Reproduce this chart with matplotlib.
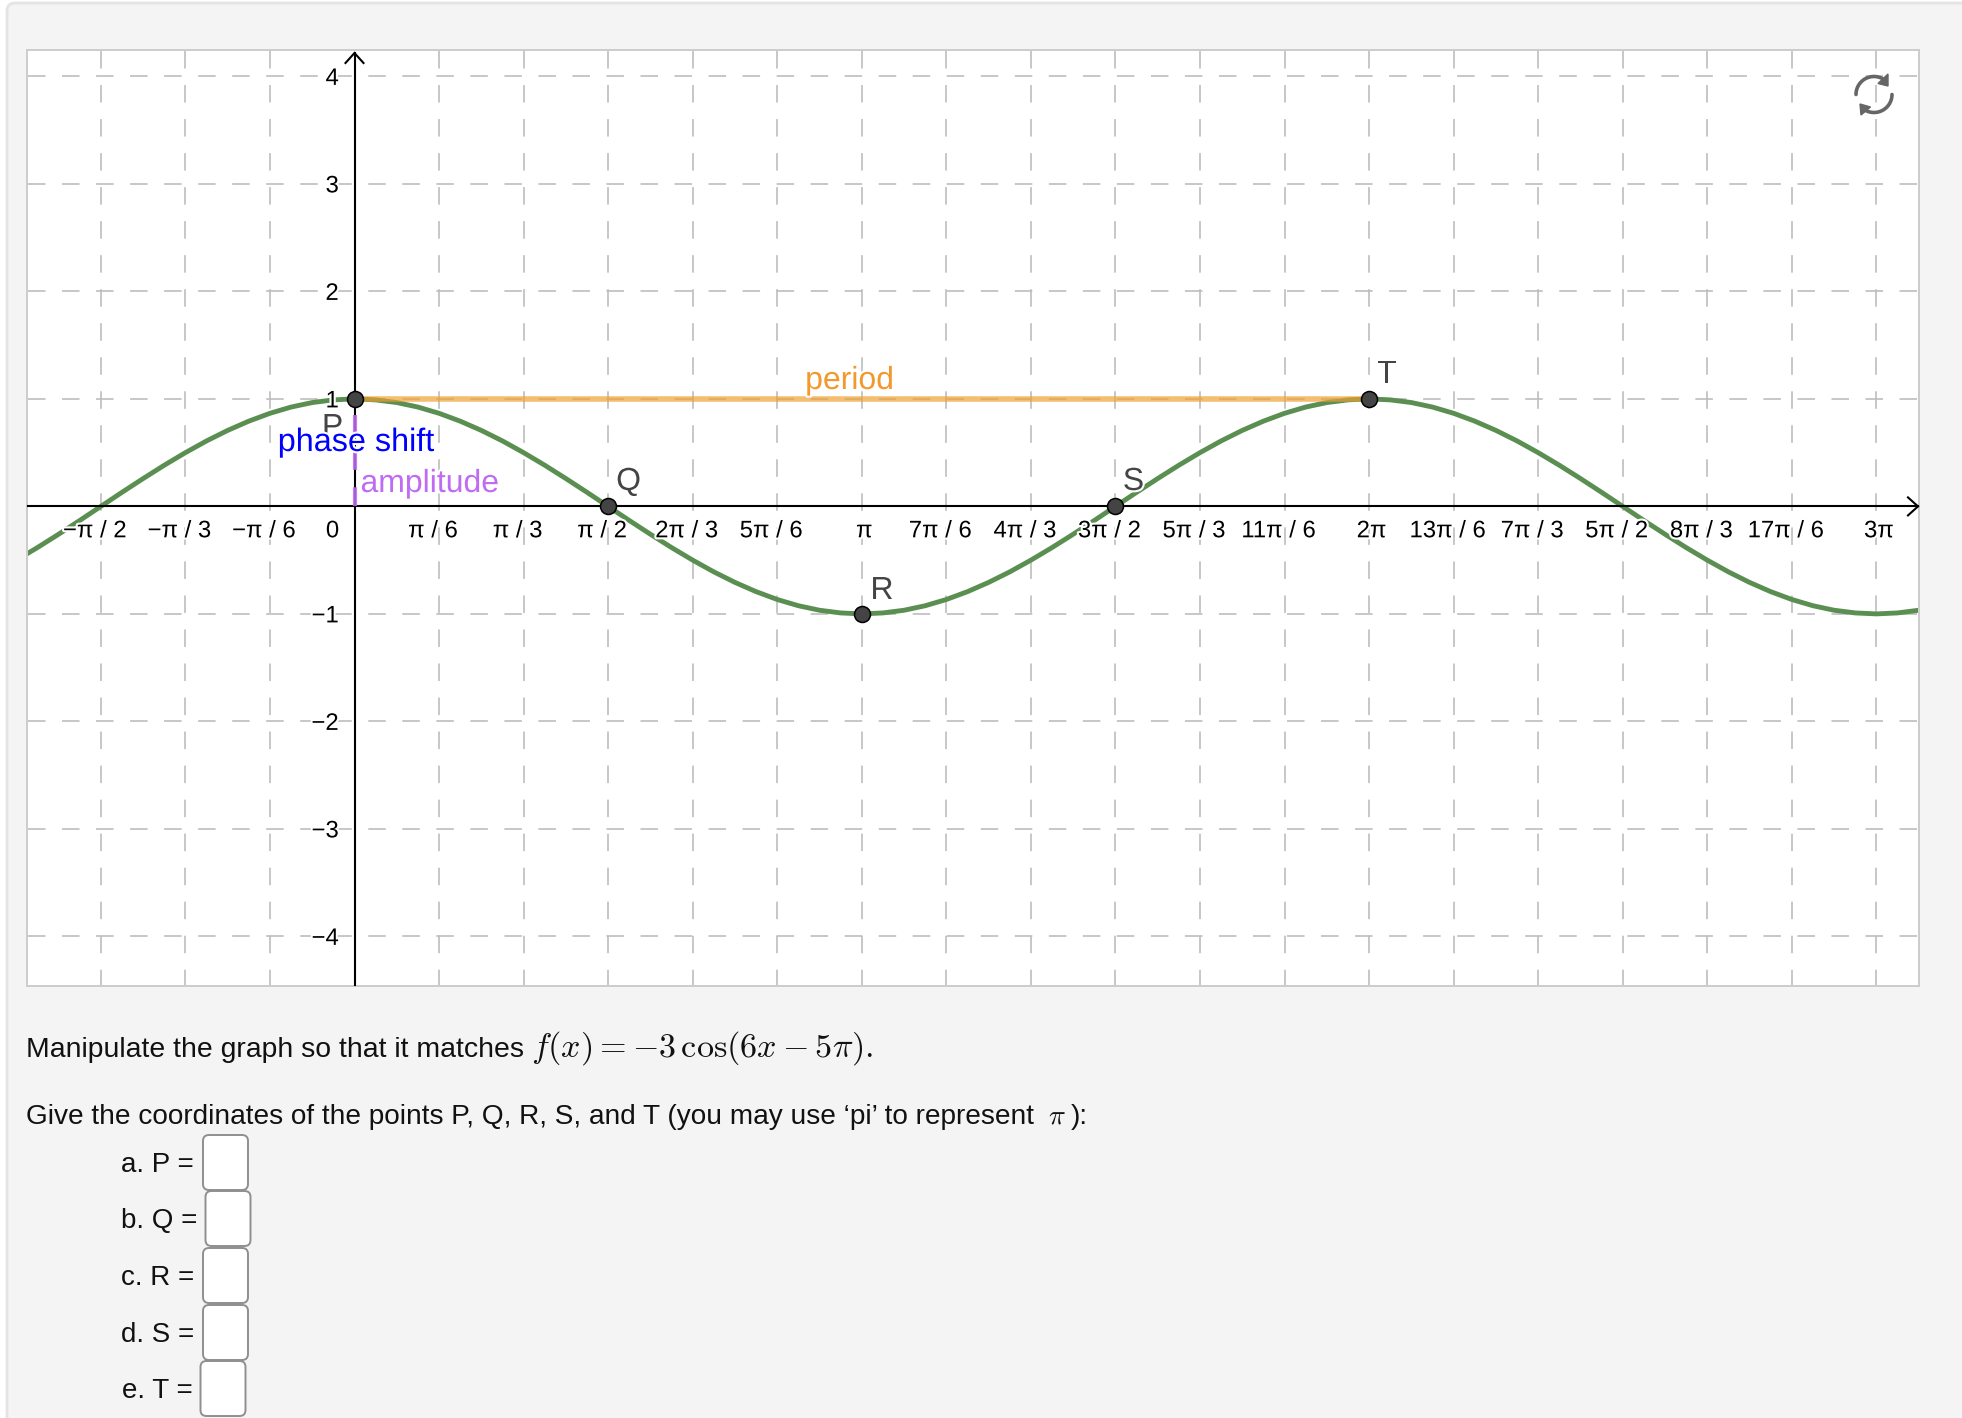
import matplotlib
matplotlib.use('Agg')
import matplotlib.pyplot as plt
import matplotlib.patheffects as pe
from matplotlib.patches import FancyBboxPatch, Polygon, Rectangle
from matplotlib.transforms import ScaledTranslation
import numpy as np

plt.rcParams['font.family'] = ['Liberation Sans', 'DejaVu Sans']
plt.rcParams['mathtext.fontset'] = 'cm'
plt.rcParams['lines.scale_dashes'] = False

# --- Data ------------------------------------------------------------
# x values are given in units of pi
tick_steps = [-3, -2, -1, 0, 1, 2, 3, 4, 5, 6, 7, 8, 9, 10, 11, 12, 13, 14, 15, 16, 17, 18]
x_tick_labels = ['−π / 2', '−π / 3', '−π / 6', '0', 'π / 6', 'π / 3', 'π / 2',
                 '2π / 3', '5π / 6', 'π', '7π / 6', '4π / 3', '3π / 2', '5π / 3',
                 '11π / 6', '2π', '13π / 6', '7π / 3', '5π / 2', '8π / 3',
                 '17π / 6', '3π']
y_ticks = [-4, -3, -2, -1, 1, 2, 3, 4]
y_tick_labels = ['−4', '−3', '−2', '−1', '1', '2', '3', '4']

# curve every pi/24, starting at -16 pi/24
curve_steps = list(range(-16, 76))
curve_y = [-.5, -.383, -.259, -.131, 0, .131, .259, .383, .5, .609, .707, .793,
           .866, .924, .966, .991, 1, .991, .966, .924, .866, .793, .707, .609,
           .5, .383, .259, .131, 0, -.131, -.259, -.383, -.5, -.609, -.707, -.793,
           -.866, -.924, -.966, -.991, -1, -.991, -.966, -.924, -.866, -.793, -.707,
           -.609, -.5, -.383, -.259, -.131, 0, .131, .259, .383, .5, .609, .707,
           .793, .866, .924, .966, .991, 1, .991, .966, .924, .866, .793, .707,
           .609, .5, .383, .259, .131, 0, -.131, -.259, -.383, -.5, -.609, -.707,
           -.793, -.866, -.924, -.966, -.991, -1, -.991, -.966, -.924]

point_names = ['P', 'Q', 'R', 'S', 'T']
point_x = [0, 0.5, 1, 1.5, 2]
point_y = [1, 0, -1, 0, 1]

answer_labels = ['a. P =', 'b. Q =', 'c. R =', 'd. S =', 'e. T =']

# --- Layout in pixels ------------------------------------------------
W, H = 1962, 1418
LEFT, RIGHT, TOP, BOTTOM = 28, 1918, 51, 985
X0, Y0 = 354.5, 506.4
X_UNIT = 84.55 * 6     # pixels per pi
Y_UNIT = 107.5

GRID = '#bdbdbd'
GREEN = '#5b8f52'
ORANGE = '#f0a030'
PURPLE = '#bf6bf2'
halo = [pe.withStroke(linewidth=3, foreground='white')]

fig = plt.figure(figsize=(W / 100, H / 100), dpi=100, facecolor='white')

# page behind the graph
page = fig.add_axes([0, 0, 1, 1], zorder=0)
page.set_xlim(0, W)
page.set_ylim(H, 0)
page.axis('off')
page.add_patch(FancyBboxPatch((7, 3), 2200, 2000, boxstyle='round,pad=0,rounding_size=8',
                              facecolor='#f4f4f4', edgecolor='#e4e4e4', linewidth=2))
page.add_patch(Rectangle((LEFT - 1, TOP - 1), RIGHT - LEFT + 2, BOTTOM - TOP + 2,
                         facecolor='white', edgecolor='#cccccc', linewidth=1.4))

# the graph
ax = fig.add_axes([LEFT / W, 1 - BOTTOM / H, (RIGHT - LEFT) / W, (BOTTOM - TOP) / H],
                  zorder=1)
ax.patch.set_alpha(0)
ax.set_xlim((LEFT - X0) / X_UNIT, (RIGHT - X0) / X_UNIT)
ax.set_ylim((Y0 - BOTTOM) / Y_UNIT, (Y0 - TOP) / Y_UNIT)
xmin, xmax = ax.get_xlim()
ymin, ymax = ax.get_ylim()

# dashed grid, dashes start at the left and top edges
grid_dash = (0, (12.6, 11.9))
for step in tick_steps:
    if step != 0:
        ax.plot([step / 6, step / 6], [ymax, ymin], color=GRID, lw=1.2,
                ls=grid_dash, dash_capstyle='butt', zorder=1)
for y in y_ticks:
    ax.plot([xmin, xmax], [y, y], color=GRID, lw=1.2, ls=grid_dash,
            dash_capstyle='butt', zorder=1)

ax.plot(np.array(curve_steps) / 24, curve_y, color=GREEN, lw=3.5, zorder=2,
        solid_joinstyle='round')
ax.plot([point_x[0], point_x[4]], [point_y[0], point_y[4]], color=ORANGE, lw=4,
        alpha=0.68, solid_capstyle='butt', zorder=2.2)
ax.plot([0, 0], [0, 1], color=PURPLE, lw=3, ls=(0, (13.5, 12.5)), alpha=0.88,
        dash_capstyle='butt', zorder=3)

# axes through the origin
for side in ['top', 'right']:
    ax.spines[side].set_visible(False)
ax.spines['bottom'].set_position(('data', 0))
ax.spines['left'].set_position(('data', 0))
for side in ['bottom', 'left']:
    ax.spines[side].set_linewidth(1.5)
    ax.spines[side].set_zorder(2.4)
ax.spines['left'].set_bounds(ymin, ymax - 2 / Y_UNIT)

ax.set_xticks(np.array(tick_steps) / 6)
ax.set_xticklabels(x_tick_labels, fontsize=17.2)
ax.set_yticks(y_ticks)
ax.set_yticklabels(y_tick_labels, fontsize=17.2)
ax.tick_params(axis='both', length=0)
ax.tick_params(axis='x', pad=10)
ax.tick_params(axis='y', pad=11.3)
for text, name in zip(ax.get_xticklabels(), x_tick_labels):
    if name == '0':
        dx = -22
    elif '/' in name:
        dx = -6
    else:
        dx = 2.5
    text.set_transform(text.get_transform()
                       + ScaledTranslation(dx / 100, 0, fig.dpi_scale_trans))
    text.set_path_effects(halo)
for text in ax.get_yticklabels():
    text.set_path_effects(halo)
ax.set_axisbelow(False)

ax.plot(point_x, point_y, ls='none', marker='o', markersize=11.5,
        markerfacecolor='#444444', markeredgecolor='black', markeredgewidth=1.1,
        zorder=5)

# overlay for labels, arrows, icon and the question text
top = fig.add_axes([0, 0, 1, 1], zorder=3)
top.set_xlim(0, W)
top.set_ylim(H, 0)
top.axis('off')

label_pos = {'P': (332.6, 428), 'Q': (628.6, 482), 'R': (882, 591),
             'S': (1133.5, 482), 'T': (1387, 374.5)}
for name in point_names:
    lx, ly = label_pos[name]
    top.text(lx, ly, name, fontsize=23, color='#444444', ha='center', va='center',
             path_effects=halo)

top.text(849.6, 381, 'period', fontsize=23, color='#f2982c', ha='center', va='center',
         path_effects=halo)
top.text(356, 443, 'phase shift', fontsize=23.3, color='#0000ff', ha='center', va='center',
         path_effects=halo)
top.text(360.5, 484, 'amplitude', fontsize=23, color=PURPLE, ha='left', va='center',
         path_effects=halo)

# axis arrow heads
top.plot([1908, 1918, 1908], [Y0 - 9, Y0, Y0 + 9], color='black', lw=1.5,
         solid_joinstyle='miter')
top.plot([X0 - 9, X0, X0 + 9], [63, 53, 63], color='black', lw=1.5,
         solid_joinstyle='miter')

# refresh icon
cx, cy, r = 1874, 94.5, 18
t = np.radians(np.linspace(180, 300, 30))
top.plot(cx + r * np.cos(t), cy + r * np.sin(t), color='#666666', lw=2.6,
         solid_capstyle='round')
t = np.radians(np.linspace(0, 120, 30))
top.plot(cx + r * np.cos(t), cy + r * np.sin(t), color='#666666', lw=2.6,
         solid_capstyle='round')
top.add_patch(Polygon([(1888, 74), (1888, 86), (1878, 83.5)], color='#666666'))
top.add_patch(Polygon([(1860, 104), (1870.5, 107), (1861, 115)], color='#666666'))

# question text
top.text(26, 1056.7, 'Manipulate the graph so that it matches', fontsize=20.4,
         color='#111111', va='baseline')
top.text(531, 1056.7, r'$f(x) = -3\,\cos(6x - 5\pi).$', fontsize=24.6, color='#111111',
         va='baseline')
top.text(26, 1124, 'Give the coordinates of the points P, Q, R, S, and T '
         '(you may use ‘pi’ to represent', fontsize=20.2, color='#111111',
         va='baseline')
top.text(1048, 1124, r'$\pi$', fontsize=20, color='#111111', va='baseline')
top.text(1071, 1124, '):', fontsize=20.2, color='#111111', va='baseline')

box_left = [203, 205.5, 203, 203, 200.5]
box_top = [1135, 1191, 1248, 1305, 1361]
label_right = [194, 197, 194, 194, 192.5]
for label, bx, by, lr in zip(answer_labels, box_left, box_top, label_right):
    top.add_patch(FancyBboxPatch((bx + 4, by + 4), 37, 47,
                                 boxstyle='round,pad=4,rounding_size=6',
                                 facecolor='white', edgecolor='#8f8f8f', linewidth=1.4))
    top.text(lr, by + 37, label, fontsize=20, color='#111111', ha='right',
             va='baseline')

fig.savefig('out.png', dpi=100)
